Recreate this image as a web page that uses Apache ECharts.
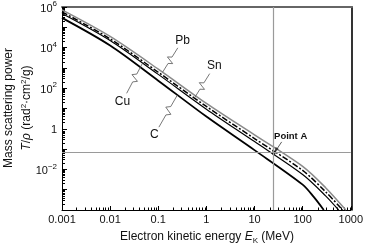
<!DOCTYPE html>
<html><head><meta charset="utf-8">
<script src="https://cdn.jsdelivr.net/npm/echarts@6/dist/echarts.min.js"></script>
<style>html,body{margin:0;padding:0;background:#fff}#c{width:366px;height:248px}</style>
</head><body><div id="c"></div>
<script>
// ---- data ----
const energyC  = [0.001, 0.01, 0.1, 1, 10, 100, 170, 275];
const valuesC  = [2.9e5, 1.26e4, 235, 4.0, 0.089, 1.78e-3, 4.4e-4, 1e-4];
const energyCu = [0.001, 0.01, 0.1, 1, 10, 100, 300, 560];
const valuesCu = [4.8e5, 2.24e4, 480, 9.3, 0.234, 5.6e-3, 5e-4, 1e-4];
const energySn = [0.001, 0.01, 0.1, 1, 10, 100, 300, 680];
const valuesSn = [5.75e5, 2.7e4, 610, 12.6, 0.33, 8.9e-3, 7.9e-4, 1e-4];
const energyPb = [0.001, 0.01, 0.1, 1, 10, 100, 300, 790];
const valuesPb = [7.2e5, 3.55e4, 870, 17.8, 0.5, 1.41e-2, 1.26e-3, 1e-4];
const seriesNames = ['C', 'Cu', 'Sn', 'Pb'];
const xTickLabels = {'-3':'0.001','-2':'0.01','-1':'0.1','0':'1','1':'10','2':'100','3':'1000'};
const yTickLabels = {'-2':'{b|10}{s|−2}','0':'{b|1}','2':'{b|10}{s|2}','4':'{b|10}{s|4}','6':'{b|10}{s|6}'};
const pointA = [25, 0.065];
const pointALabel = 'Point A';
// annotation anchors: [label, energy on curve, label offset dx, dy]
const curveLabels = [
  ['Pb', 0.123, 20, -32],
  ['Sn', 0.565, 20, -32],
  ['Cu', 0.047, -20, 38],
  ['C', 0.25, -23, 40]
];

const FONT = '"Liberation Sans", Arial, Helvetica, sans-serif';
const pairs = (xs, ys) => xs.map((x, i) => [x, ys[i]]);
function minorLogs(lo, hi) {
  const out = [];
  for (let n = lo; n < hi; n++) for (let k = 2; k <= 9; k++) out.push(n + Math.log10(k));
  return out;
}
const seriesData = {
  C: [energyC, valuesC], Cu: [energyCu, valuesCu], Sn: [energySn, valuesSn], Pb: [energyPb, valuesPb]
};
const styles = {
  C:  {color: '#000', width: 1.8, type: 'solid'},
  Cu: {color: '#000', width: 1.2, type: 'solid'},
  Sn: {color: '#000', width: 1.5, type: [6, 2, 2, 2]},
  Pb: {color: '#8a8a8a', width: 1.5, type: 'solid'}
};

const chart = echarts.init(document.getElementById('c'));
const gridRect = {left: 62, right: 14, top: 7, bottom: 38};

chart.setOption({
  animation: false,
  grid: [Object.assign({}, gridRect), Object.assign({}, gridRect)],
  xAxis: [
    {type: 'log', gridIndex: 0, min: 0.001, max: 1000, interval: 1, position: 'bottom',
     axisLine: {onZero: false, lineStyle: {color: '#000', width: 1}},
     axisTick: {inside: true, length: 4, lineStyle: {color: '#000'}},
     splitLine: {show: false},
     axisLabel: {fontFamily: FONT, fontSize: 11, color: '#111', margin: 4,
       formatter: v => xTickLabels[String(Math.round(Math.log10(v)))] || ''}},
    {type: 'value', gridIndex: 1, min: -3, max: 3, position: 'bottom',
     axisLine: {show: false, onZero: false}, axisLabel: {show: false}, splitLine: {show: false},
     axisTick: {inside: true, length: 2.5, customValues: minorLogs(-3, 3), lineStyle: {color: '#000'}}},
    {type: 'value', gridIndex: 1, min: 0, max: 1, position: 'top',
     axisLine: {onZero: false, lineStyle: {color: '#666', width: 2}}, axisTick: {show: false},
     axisLabel: {show: false}, splitLine: {show: false}}
  ],
  yAxis: [
    {type: 'log', gridIndex: 0, min: 1e-4, max: 1e6, interval: 1, position: 'left',
     axisLine: {onZero: false, lineStyle: {color: '#000', width: 1}},
     axisTick: {inside: true, length: 5, lineStyle: {color: '#000'}},
     splitLine: {show: false},
     axisLabel: {fontFamily: FONT, color: '#111', margin: 5,
       formatter: v => yTickLabels[String(Math.round(Math.log10(v)))] || '',
       rich: {b: {fontFamily: FONT, fontSize: 11, lineHeight: 14, verticalAlign: 'bottom', color: '#111'},
              s: {fontFamily: FONT, fontSize: 8, lineHeight: 7, verticalAlign: 'top', color: '#111'}}}},
    {type: 'value', gridIndex: 1, min: -4, max: 6, position: 'left',
     axisLine: {show: false, onZero: false}, axisLabel: {show: false}, splitLine: {show: false},
     axisTick: {inside: true, length: 3, customValues: minorLogs(-4, 6), lineStyle: {color: '#000'}}},
    {type: 'value', gridIndex: 1, min: 0, max: 1, position: 'right',
     axisLine: {onZero: false, lineStyle: {color: '#000', width: 1.6}}, axisTick: {show: false},
     axisLabel: {show: false}, splitLine: {show: false}}
  ],
  series: [
    {type: 'scatter', xAxisIndex: 0, yAxisIndex: 0, z: 1, data: [pointA],
     symbolSize: 4, itemStyle: {color: '#000'}, silent: true,
     markLine: {silent: true, symbol: 'none', label: {show: false},
       lineStyle: {color: '#9a9a9a', width: 1.2, type: 'solid'},
       data: [{yAxis: pointA[1]}, {xAxis: pointA[0]}]}}
  ].concat(seriesNames.map(n => ({
    name: n, type: 'line', xAxisIndex: 0, yAxisIndex: 0, z: 3,
    data: pairs(seriesData[n][0], seriesData[n][1]),
    showSymbol: false, smooth: 0.3, clip: true,
    lineStyle: styles[n]
  })))
});

function valueAt(xs, ys, e) {
  const le = Math.log10(e);
  for (let i = 0; i < xs.length - 1; i++) {
    const a = Math.log10(xs[i]), b = Math.log10(xs[i + 1]);
    if (le >= a && le <= b) {
      const t = (le - a) / (b - a);
      return Math.pow(10, Math.log10(ys[i]) + t * (Math.log10(ys[i + 1]) - Math.log10(ys[i])));
    }
  }
  return ys[ys.length - 1];
}

const graphics = [];
curveLabels.forEach(([name, e, dx, dy]) => {
  const [xs, ys] = seriesData[name];
  const tip = chart.convertToPixel({xAxisIndex: 0, yAxisIndex: 0}, [e, valueAt(xs, ys, e)]);
  const L = [tip[0] + dx, tip[1] + dy];
  const d0 = [tip[0] - L[0], tip[1] - L[1]];
  const len = Math.hypot(d0[0], d0[1]);
  const u = [d0[0] / len, d0[1] / len];
  const s = [L[0] + u[0] * 9, L[1] + u[1] * 9];
  const d = [tip[0] - s[0], tip[1] - s[1]];
  const nrm = [-u[1], u[0]];
  const P = (t, k) => [s[0] + d[0] * t + nrm[0] * k, s[1] + d[1] * t + nrm[1] * k];
  graphics.push({type: 'polyline', z: 10, silent: true,
    shape: {points: [s, P(0.38, 0), P(0.46, 4), P(0.56, -4), P(0.64, 0), tip]},
    style: {stroke: '#555', lineWidth: 0.8, fill: null}});
  graphics.push({type: 'text', z: 10, silent: true, x: L[0], y: L[1],
    style: {text: name, fontFamily: FONT, fontSize: 12, fill: '#111', align: 'center', verticalAlign: 'middle'}});
});

const pA = chart.convertToPixel({xAxisIndex: 0, yAxisIndex: 0}, pointA);
graphics.push({type: 'text', z: 10, silent: true, x: pA[0] + 17, y: pA[1] - 17,
  style: {text: pointALabel, fontFamily: FONT, fontSize: 9.5, fontWeight: 'bold', fill: '#111', align: 'center', verticalAlign: 'middle'}});
graphics.push({type: 'line', z: 10, silent: true,
  shape: {x1: pA[0] + 8, y1: pA[1] - 11, x2: pA[0] + 2, y2: pA[1] - 2},
  style: {stroke: '#333', lineWidth: 0.8}});
graphics.push({type: 'polygon', z: 10, silent: true,
  shape: {points: [[pA[0] + 1, pA[1] - 1], [pA[0] + 2, pA[1] - 6], [pA[0] + 5, pA[1] - 4]]},
  style: {fill: '#333'}});

// axis titles
graphics.push({type: 'text', silent: true, x: 207, y: 237,
  style: {text: '{a|Electron kinetic energy }{i|E}{u|K}{a| (MeV)}', align: 'center', verticalAlign: 'middle',
    rich: {a: {fontFamily: FONT, fontSize: 12, lineHeight: 15, fill: '#111'},
           i: {fontFamily: FONT, fontSize: 12, lineHeight: 15, fontStyle: 'italic', fill: '#111'},
           u: {fontFamily: FONT, fontSize: 8, lineHeight: 8, verticalAlign: 'bottom', fill: '#111'}}}});
graphics.push({type: 'text', silent: true, x: 9, y: 108, rotation: Math.PI / 2,
  style: {text: 'Mass scattering power', fontFamily: FONT, fontSize: 12, fill: '#111', align: 'center', verticalAlign: 'middle'}});
graphics.push({type: 'text', silent: true, x: 27, y: 108, rotation: Math.PI / 2,
  style: {text: '{i|T}{a|/}{i|ρ}{a| (rad}{s|2}{a|·cm}{s|2}{a|/g)}', align: 'center', verticalAlign: 'middle',
    rich: {a: {fontFamily: FONT, fontSize: 12, lineHeight: 15, fill: '#111'},
           i: {fontFamily: FONT, fontSize: 12, lineHeight: 15, fontStyle: 'italic', fill: '#111'},
           s: {fontFamily: FONT, fontSize: 8, lineHeight: 8, verticalAlign: 'top', fill: '#111'}}}});

chart.setOption({graphic: graphics});
</script></body></html>
